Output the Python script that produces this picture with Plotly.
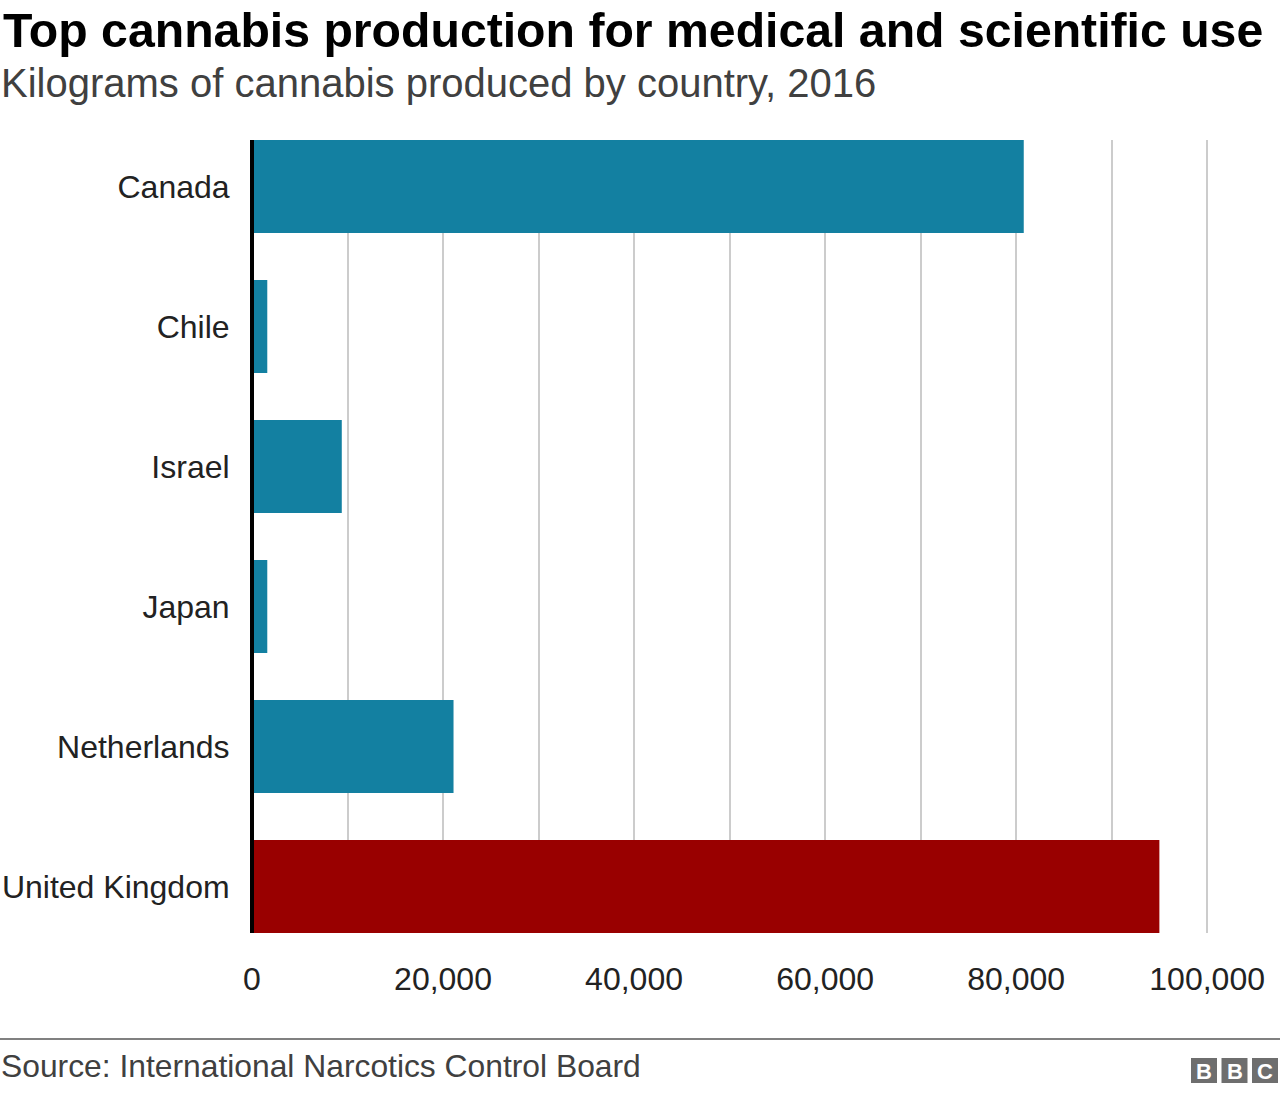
import plotly.graph_objects as go

countries = ["Canada", "Chile", "Israel", "Japan", "Netherlands", "United Kingdom"]
kilograms = [80800, 1600, 9400, 1600, 21100, 95000]
bar_colors = ["#1380A1", "#1380A1", "#1380A1", "#1380A1", "#1380A1", "#990000"]
x_tick_vals = [0, 20000, 40000, 60000, 80000, 100000]
x_tick_text = ["0", "20,000", "40,000", "60,000", "80,000", "100,000"]

title_text = "Top cannabis production for medical and scientific use"
subtitle_text = "Kilograms of cannabis produced by country, 2016"
source_text = "Source: International Narcotics Control Board"

W, H = 1280, 1094
L, R, T, B = 252, 70, 140, 161
PW, PH = W - L - R, H - T - B

def px(x):
    return (x - L) / PW

def py(y):
    return (H - B - y) / PH

FONT = "Liberation Sans, Arial, Helvetica, sans-serif"

fig = go.Figure(
    go.Bar(
        y=countries,
        x=kilograms,
        orientation="h",
        marker=dict(color=bar_colors, line=dict(width=0)),
        width=0.664,
        hoverinfo="skip",
    )
)

fig.update_layout(
    width=W,
    height=H,
    margin=dict(l=L, r=R, t=T, b=B, pad=0, autoexpand=False),
    paper_bgcolor="white",
    plot_bgcolor="white",
    font=dict(family=FONT, color="#222222"),
    showlegend=False,
    xaxis=dict(
        range=[0, 100300],
        tickvals=x_tick_vals,
        ticktext=x_tick_text,
        showgrid=True,
        gridcolor="#cccccc",
        gridwidth=2,
        minor=dict(dtick=10000, tick0=0, showgrid=True, gridcolor="#cccccc", gridwidth=2),
        zeroline=False,
        showline=False,
        ticks="outside",
        ticklen=18,
        tickcolor="rgba(0,0,0,0)",
        tickfont=dict(size=32, color="#222222", family=FONT),
        automargin=False,
        fixedrange=True,
    ),
    yaxis=dict(
        categoryorder="array",
        categoryarray=countries,
        range=[5.332, -0.332],
        showgrid=False,
        zeroline=False,
        showline=False,
        ticks="outside",
        ticklen=15,
        tickcolor="rgba(0,0,0,0)",
        tickfont=dict(size=32, color="#222222", family=FONT),
        automargin=False,
        fixedrange=True,
    ),
)

annotations = [
    dict(text="<b>" + title_text + "</b>", x=px(1), y=py(30), xref="paper", yref="paper",
         xanchor="left", yanchor="middle", showarrow=False,
         font=dict(size=48.2, color="#000000", family=FONT)),
    dict(text=subtitle_text, x=px(-1), y=py(83), xref="paper", yref="paper",
         xanchor="left", yanchor="middle", showarrow=False,
         font=dict(size=40, color="#404040", family=FONT)),
    dict(text=source_text, x=px(-1), y=py(1066), xref="paper", yref="paper",
         xanchor="left", yanchor="middle", showarrow=False,
         font=dict(size=31.8, color="#404040", family=FONT)),
]

shapes = [
    # black baseline at x = 0 (left edge of the x range)
    dict(type="line", xref="paper", yref="paper", x0=0, x1=0, y0=0, y1=1,
         line=dict(color="#000000", width=4), layer="above"),
    dict(type="line", xref="paper", yref="paper", x0=px(0), x1=px(1280), y0=py(1039), y1=py(1039),
         line=dict(color="#808080", width=2)),
]

for i, letter in enumerate(["B", "B", "C"]):
    x0 = 1191 + i * 30.5
    shapes.append(dict(type="rect", xref="paper", yref="paper",
                       x0=px(x0), x1=px(x0 + 26), y0=py(1083), y1=py(1058),
                       fillcolor="#6e6e6e", line=dict(width=0)))
    annotations.append(dict(text="<b>" + letter + "</b>", x=px(x0 + 13), y=py(1071),
                            xref="paper", yref="paper", xanchor="center", yanchor="middle",
                            showarrow=False, font=dict(size=22, color="white", family=FONT)))

fig.update_layout(annotations=annotations, shapes=shapes)

fig.write_html("out.html", config={"displayModeBar": False, "staticPlot": True},
               post_script="document.body.style.margin='0';document.body.style.overflow='hidden';")
